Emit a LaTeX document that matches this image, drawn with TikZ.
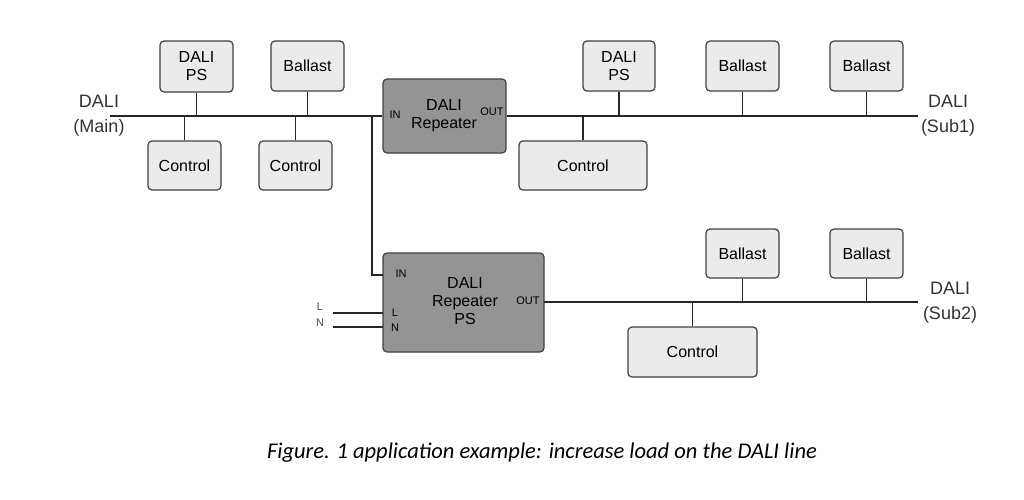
\documentclass[tikz,border=0pt]{standalone}
\usepackage{fontspec}
\setmainfont{Liberation Sans}
\newfontfamily\capfont{Carlito}
\begin{document}
\begin{tikzpicture}[x=1pt,y=-1pt,
 box/.style={draw=black!75,fill=black!8,rounded corners=4pt,line width=1.2pt,inner sep=0pt,align=center,font=\fontsize{16}{18}\selectfont},
 rep/.style={box,fill=black!42},
 ln/.style={line width=1.1pt,black!85},
 lab/.style={font=\fontsize{18}{25}\selectfont,text=black!80,align=center},
 pin/.style={font=\fontsize{11}{12}\selectfont,inner sep=0pt}]
\useasboundingbox (0,0) rectangle (1024,499);
% main
\node[box,minimum width=73,minimum height=51] (ps1) at (196.5,66.5) {DALI\\PS};
\node[box,minimum width=73,minimum height=50] (b1) at (307.5,66) {Ballast};
\node[box,minimum width=73,minimum height=49] (c1) at (184.5,165.5) {Control};
\node[box,minimum width=73,minimum height=49] (c2) at (295.5,165.5) {Control};
\node[rep,minimum width=123,minimum height=74] (r1) at (444.5,116) {};
\node[font=\fontsize{16}{18}\selectfont,align=center] at (444,116) {DALI\\Repeater};
\node[pin] at (395,115) {IN};
\node[pin] at (492,112) {OUT};
\node[lab] (lmain) at (99,116) {DALI\\(Main)};
\coordinate (m0) at (110,116);
\draw[ln] (m0) -- (r1.west);
\draw[ln] (ps1.south) -- (196.5,116);
\draw[ln] (b1.south) -- (307.5,116);
\draw[ln] (c1.north) -- (184.5,116);
\draw[ln] (c2.north) -- (295.5,116);
% sub1
\node[box,minimum width=72,minimum height=50] (ps2) at (619,66) {DALI\\PS};
\node[box,minimum width=73,minimum height=50] (b2) at (742.5,66) {Ballast};
\node[box,minimum width=73,minimum height=50] (b3) at (866.5,66) {Ballast};
\node[box,minimum width=128,minimum height=49] (c3) at (583,165.5) {Control};
\node[lab] at (948,116) {DALI\\(Sub1)};
\coordinate (s1) at (918,116);
\draw[ln] (r1.east) -- (s1);
\draw[ln] (ps2.south) -- (619,116);
\draw[ln] (b2.south) -- (742.5,116);
\draw[ln] (b3.south) -- (866.5,116);
\draw[ln] (c3.north) -- (583,116);
% repeater 2
\node[rep,minimum width=161,minimum height=99] (r2) at (463.5,302.5) {};
\node[font=\fontsize{16}{18}\selectfont,align=center] at (465,301) {DALI\\Repeater\\PS};
\node[pin] at (401,274) {IN};
\node[pin] at (395,313) {L};
\node[pin] at (395,328) {N};
\node[pin] at (528,301) {OUT};
\draw[ln] (372,116) -- (372,275) -- (383,275);
\node[pin,text=black!70] (L) at (320,307) {L};
\node[pin,text=black!70] (N) at (320,323) {N};
\draw[ln] (333,313) -- (383,313);
\draw[ln] (333,327) -- (383,327);
% sub2
\node[box,minimum width=73,minimum height=49] (b4) at (742.5,253.5) {Ballast};
\node[box,minimum width=73,minimum height=49] (b5) at (866.5,253.5) {Ballast};
\node[box,minimum width=129,minimum height=50] (c4) at (692.5,352) {Control};
\node[lab] at (950,303) {DALI\\(Sub2)};
\coordinate (s2) at (918,302);
\draw[ln] (544,302) -- (s2);
\draw[ln] (b4.south) -- (742.5,302);
\draw[ln] (b5.south) -- (866.5,302);
\draw[ln] (c4.north) -- (692.5,302);
\node[font=\capfont\itshape\fontsize{22.5}{24}\selectfont] (cap) at (542,453) {Figure. 1 application example: increase load on the DALI line};
\end{tikzpicture}
\end{document}
